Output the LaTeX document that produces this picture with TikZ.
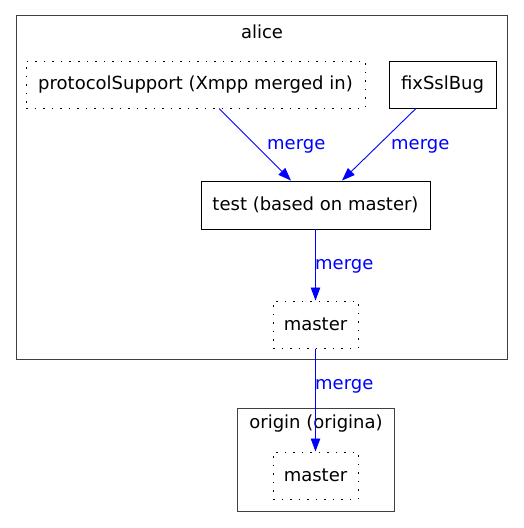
\documentclass[tikz,border=0pt]{standalone}
\usepackage{fontspec}
\setmainfont{DejaVu Sans}
\usetikzlibrary{arrows.meta}
\begin{document}
\begin{tikzpicture}[x=1pt,y=-1pt,
  font=\fontsize{18}{21}\selectfont,
  cluster/.style={draw=black!75,line width=1pt},
  box/.style={draw=black,line width=0.9pt,rectangle,inner sep=0pt},
  dotbox/.style={draw=black,line width=1pt,rectangle,inner sep=0pt,dash pattern=on 1.5pt off 7pt},
  edge/.style={draw=blue,line width=0.9pt,-{Triangle[length=13pt,width=9.5pt]}},
  elabel/.style={text=blue,inner sep=0pt,anchor=west}]
\useasboundingbox (0,0) rectangle (523,528);
\draw[cluster] (16,15) rectangle (507,359);
\node (alicelbl) at (262,32) {alice};
\draw[cluster] (237,408) rectangle (394,511);
\node (originlbl) at (316,424) {origin (origina)};
\node[dotbox,minimum width=339pt,minimum height=47pt] (ps) at (195.5,84.5) {protocolSupport (Xmpp merged in)};
\node[box,minimum width=107pt,minimum height=47pt] (fix) at (442.5,84.5) {fixSslBug};
\node[box,minimum width=229pt,minimum height=48pt] (test) at (315.5,205) {test (based on master)};
\node[dotbox,minimum width=85pt,minimum height=47pt] (ma) at (315.5,324.5) {master};
\node[dotbox,minimum width=85pt,minimum height=47pt] (mo) at (315.5,475.5) {master};
\draw[edge] (ps.south -| 219,0) -- (test.north -| 291,0);
\node[elabel] (l1) at (267,146) {merge};
\draw[edge] (fix.south -| 416,0) -- (test.north -| 342,0);
\node[elabel] (l2) at (391,146) {merge};
\draw[edge] (test) -- (ma);
\node[elabel] (l3) at (315,266) {merge};
\draw[edge] (ma) -- (mo);
\node[elabel] (l4) at (315,386) {merge};
\end{tikzpicture}
\end{document}
